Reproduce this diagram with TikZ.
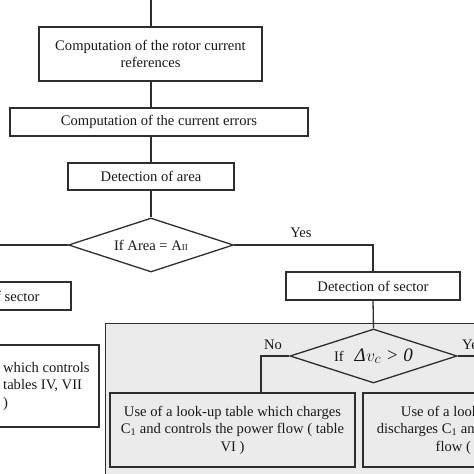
\documentclass[tikz,border=0pt]{standalone}
\usepackage{fontspec}
\setmainfont{Liberation Serif}
\usetikzlibrary{shapes.geometric}
\definecolor{ln}{HTML}{2E2E2E}
\definecolor{panelgray}{HTML}{EBEBEB}
\tikzset{
  txt/.style={text=black!90, font=\fontsize{14.6}{17.5}\selectfont},
  box/.style={txt, draw=ln, line width=1.3pt, rectangle, inner sep=0pt, align=center},
  dia/.style={txt, draw=ln, line width=1.3pt, diamond, inner sep=0pt},
  conn/.style={draw=ln, line width=1.3pt},
  lbl/.style={txt, inner sep=0pt},
}
\begin{document}
\begin{tikzpicture}[x=1pt,y=-1pt]
\useasboundingbox (0,0) rectangle (474,474);
\clip (0,0) rectangle (474,474);
% panel
\node[draw=ln, line width=1.3pt, fill=panelgray, minimum width=400pt, minimum height=200pt, inner sep=0pt, anchor=north west] (panel) at (105,323) {};
% boxes
\node[box, minimum width=223pt, minimum height=54pt] (b1) at (150.5,54) {Computation of the rotor current\\references};
\node[box, minimum width=298pt, minimum height=28pt] (b2) at (159,122) {Computation of the current errors};
\node[box, minimum width=166pt, minimum height=27pt] (b3) at (151,176.5) {Detection of area};
\node[dia, aspect=3.05, minimum width=165pt, minimum height=54pt] (d1) at (151,245) {If Area = A{\small II}};
\node[box, minimum width=174pt, minimum height=28pt] (secR) at (373,286) {Detection of sector};
\node[box, minimum width=174pt, minimum height=28pt] (secL) at (-16,296) {Detection of sector};
\node[dia, aspect=3.1, fill=panelgray, minimum width=167pt, minimum height=54pt] (d2) at (373.5,356) {If\ \ \ {\fontsize{19}{19}\selectfont\itshape Δ\kern0.5pt$v_c$ > 0}};
\node[box, minimum width=245pt, minimum height=74pt] (lutL) at (232.5,430) {Use of a look-up table which charges\\C\textsubscript{1} and controls the power flow ( table\\VI )};
\node[box, minimum width=245pt, minimum height=74pt] (lutR) at (485.5,430) {Use of a look-up table which\\discharges C\textsubscript{1} and controls the power\\flow ( table VII )};
\node[box, minimum width=249pt, minimum height=82pt] (lutO) at (-25.5,386) {};
\node[lbl, align=left, anchor=west] (lutOt) at (3,386) {which controls\\tables IV, VII\\)};
% coordinates
\coordinate (top) at (151,0);
\coordinate (nx) at (261,0);
\coordinate (yx) at (514,0);
% connectors
\draw[conn] (top) -- (b1.north -| top);
\draw[conn] (b1.south -| top) -- (b2.north -| top);
\draw[conn] (b2.south -| top) -- (b3.north -| top);
\draw[conn] (b3.south) -- (d1.north);
\draw[conn] (d1.west) -| (secL.north);
\draw[conn] (d1.east) -| (secR.north);
\draw[conn] (secR.south) -- (d2.north);
\draw[conn] (d2.west) -| (nx |- lutL.north);
\draw[conn] (d2.east) -| (yx |- lutR.north);
% labels
\node[lbl] (yes1) at (301,233) {Yes};
\node[lbl] (no1) at (-10,233) {No};
\node[lbl] (no2) at (273,345) {No};
\node[lbl, anchor=west] (yes2) at (462,345) {Yes};
\end{tikzpicture}
\end{document}
